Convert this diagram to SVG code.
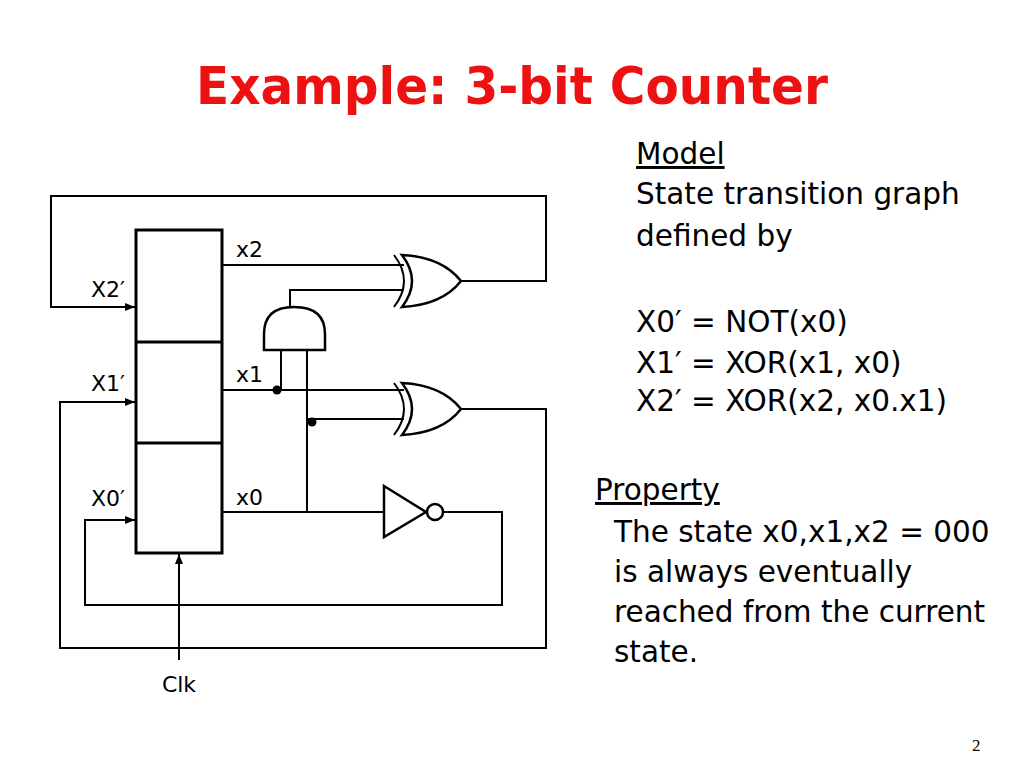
<svg xmlns="http://www.w3.org/2000/svg" width="1024" height="768" viewBox="0 0 1024 768">
<style>
.w{fill:none;stroke:#000;stroke-width:2}
.g{fill:#fff;stroke:#000;stroke-width:2.5}
.t{font-family:Tahoma,"DejaVu Sans",sans-serif;font-size:22px;fill:#000}
.r{font-family:Tahoma,"DejaVu Sans",sans-serif;font-size:29.5px;fill:#000}
</style>
<defs>
<marker id="a" viewBox="0 0 10 10" refX="10" refY="5" markerWidth="5" markerHeight="5" orient="auto"><path d="M0,1 L10,5 L0,9 z" fill="#000"/></marker>
<g id="xorShape"><path class="w" d="M-8,-26 Q12,0 -8,26" stroke-width="2.5"/><path class="g" d="M0,-26 Q40,-24 59,0 Q40,24 0,26 Q20,0 0,-26 z"/></g>
</defs>
<rect width="1024" height="768" fill="#fff"/>
<text x="196" y="104" textLength="632" lengthAdjust="spacingAndGlyphs" font-family="'DejaVu Sans Condensed','DejaVu Sans',sans-serif" font-weight="bold" font-size="52" fill="#ee1111">Example: 3-bit Counter</text>
<g id="connectors">
<path class="w" d="M222,265 H404"/>
<path class="w" d="M290,307 V290 H404"/>
<path class="w" d="M222,390 H404"/>
<path class="w" d="M281,350 V390"/>
<path class="w" d="M307,350 V512"/>
<path class="w" d="M307,419 H404"/>
<path class="w" d="M222,512 H384"/>
<path class="w" d="M461,281 H546 V196 H51 V307 H135" marker-end="url(#a)"/>
<path class="w" d="M461,409 H546 V648 H60 V402 H135" marker-end="url(#a)"/>
<path class="w" d="M442,512 H502 V605 H85 V520 H135" marker-end="url(#a)"/>
<path class="w" d="M179,660 V554" marker-end="url(#a)"/>
<circle cx="277" cy="390" r="4.5"/>
<circle cx="312" cy="422" r="4.5"/>
</g>
<g id="register">
<rect x="136" y="230" width="86" height="323" fill="none" stroke="#000" stroke-width="3"/>
<path d="M136,342 H222 M136,443 H222" stroke="#000" stroke-width="3"/>
</g>
<g id="xor1"><use href="#xorShape" x="402" y="281"/></g>
<g id="xor2"><use href="#xorShape" x="402" y="409"/></g>
<g id="and"><path class="g" d="M264,350 V334 Q264,307 294,307 Q325,307 325,334 V350 z"/></g>
<g id="not"><path class="g" d="M384,486 L426,512 L384,537 z"/><circle class="g" cx="435" cy="512" r="8"/></g>
<g id="labels">
<text class="t" x="236" y="257">x2</text>
<text class="t" x="236" y="382">x1</text>
<text class="t" x="236" y="505">x0</text>
<text class="t" x="91" y="297">X2′</text>
<text class="t" x="91" y="391">X1′</text>
<text class="t" x="91" y="506">X0′</text>
<text class="t" x="179" y="692" text-anchor="middle">Clk</text>
</g>
<g id="text">
<text class="r" x="636" y="164" text-decoration="underline">Model</text>
<text class="r" x="636" y="204">State transition graph</text>
<text class="r" x="636" y="246">defined by</text>
<text class="r" x="636" y="332">X0′ = NOT(x0)</text>
<text class="r" x="636" y="373">X1′ = XOR(x1, x0)</text>
<text class="r" x="636" y="411">X2′ = XOR(x2, x0.x1)</text>
<text class="r" x="595" y="500" text-decoration="underline">Property</text>
<text class="r" x="614" y="542">The state x0,x1,x2 = 000</text>
<text class="r" x="614" y="582">is always eventually</text>
<text class="r" x="614" y="622">reached from the current</text>
<text class="r" x="614" y="662">state.</text>
<text x="972" y="751" font-family="'Liberation Serif',serif" font-size="17">2</text>
</g>
</svg>
